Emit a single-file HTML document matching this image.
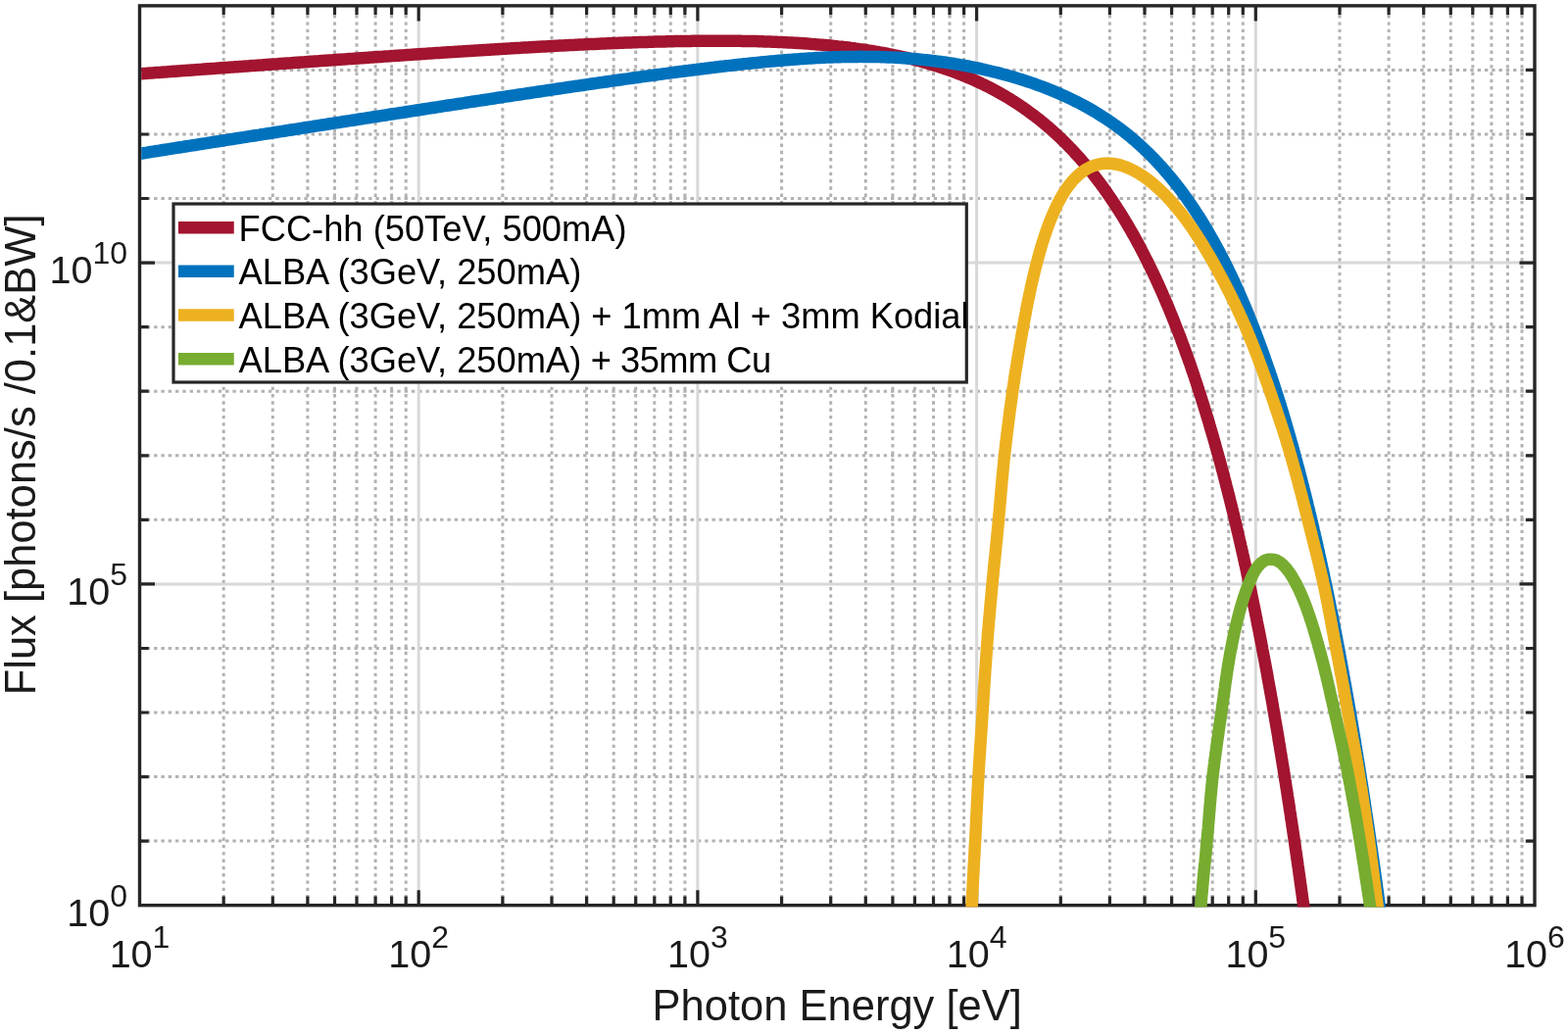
<!DOCTYPE html>
<html><head><meta charset="utf-8"><title>Flux vs Photon Energy</title><style>
html,body{margin:0;padding:0;background:#fff;overflow:hidden;}
svg{display:block;}
text{font-family:"Liberation Sans",Arial,Helvetica,sans-serif;fill:#1a1a1a;}
.lg{fill:#000;}
.tk{font-size:39.5px;}
.sp{font-size:32px;}
.lg{font-size:36.3px;}
.al{font-size:43.5px;}
</style></head><body>
<svg width="1600" height="1055" viewBox="0 0 1600 1055">
<rect x="0" y="0" width="1600" height="1055" fill="#fff"/>
<clipPath id="ax"><rect x="144.2" y="5.86" width="1421.80" height="919.54"/></clipPath>
<path d="M228.2,923.7V5.9M278.3,923.7V5.9M313.9,923.7V5.9M341.5,923.7V5.9M364.0,923.7V5.9M383.1,923.7V5.9M399.6,923.7V5.9M414.2,923.7V5.9M512.9,923.7V5.9M563.0,923.7V5.9M598.6,923.7V5.9M626.2,923.7V5.9M648.7,923.7V5.9M667.8,923.7V5.9M684.3,923.7V5.9M698.9,923.7V5.9M797.6,923.7V5.9M847.7,923.7V5.9M883.3,923.7V5.9M910.9,923.7V5.9M933.4,923.7V5.9M952.5,923.7V5.9M969.0,923.7V5.9M983.6,923.7V5.9M1082.3,923.7V5.9M1132.4,923.7V5.9M1168.0,923.7V5.9M1195.6,923.7V5.9M1218.1,923.7V5.9M1237.2,923.7V5.9M1253.7,923.7V5.9M1268.3,923.7V5.9M1367.0,923.7V5.9M1417.1,923.7V5.9M1452.7,923.7V5.9M1480.3,923.7V5.9M1502.8,923.7V5.9M1521.9,923.7V5.9M1538.4,923.7V5.9M1553.0,923.7V5.9M142.5,858.1H1566.0M142.5,792.6H1566.0M142.5,727.0H1566.0M142.5,661.5H1566.0M142.5,530.3H1566.0M142.5,464.8H1566.0M142.5,399.2H1566.0M142.5,333.7H1566.0M142.5,202.5H1566.0M142.5,137.0H1566.0M142.5,71.4H1566.0" stroke="#b2b2b2" stroke-width="3.0" stroke-dasharray="3.4 3.9" fill="none"/>
<path d="M427.2,923.7V5.9M711.9,923.7V5.9M996.6,923.7V5.9M1281.3,923.7V5.9M142.5,595.9H1566.0M142.5,268.1H1566.0" stroke="#d8d8d8" stroke-width="3.0" fill="none"/>
<path d="M228.2,923.7v-9.2M228.2,5.9v9.2M278.3,923.7v-9.2M278.3,5.9v9.2M313.9,923.7v-9.2M313.9,5.9v9.2M341.5,923.7v-9.2M341.5,5.9v9.2M364.0,923.7v-9.2M364.0,5.9v9.2M383.1,923.7v-9.2M383.1,5.9v9.2M399.6,923.7v-9.2M399.6,5.9v9.2M414.2,923.7v-9.2M414.2,5.9v9.2M427.2,923.7v-15.5M427.2,5.9v15.5M512.9,923.7v-9.2M512.9,5.9v9.2M563.0,923.7v-9.2M563.0,5.9v9.2M598.6,923.7v-9.2M598.6,5.9v9.2M626.2,923.7v-9.2M626.2,5.9v9.2M648.7,923.7v-9.2M648.7,5.9v9.2M667.8,923.7v-9.2M667.8,5.9v9.2M684.3,923.7v-9.2M684.3,5.9v9.2M698.9,923.7v-9.2M698.9,5.9v9.2M711.9,923.7v-15.5M711.9,5.9v15.5M797.6,923.7v-9.2M797.6,5.9v9.2M847.7,923.7v-9.2M847.7,5.9v9.2M883.3,923.7v-9.2M883.3,5.9v9.2M910.9,923.7v-9.2M910.9,5.9v9.2M933.4,923.7v-9.2M933.4,5.9v9.2M952.5,923.7v-9.2M952.5,5.9v9.2M969.0,923.7v-9.2M969.0,5.9v9.2M983.6,923.7v-9.2M983.6,5.9v9.2M996.6,923.7v-15.5M996.6,5.9v15.5M1082.3,923.7v-9.2M1082.3,5.9v9.2M1132.4,923.7v-9.2M1132.4,5.9v9.2M1168.0,923.7v-9.2M1168.0,5.9v9.2M1195.6,923.7v-9.2M1195.6,5.9v9.2M1218.1,923.7v-9.2M1218.1,5.9v9.2M1237.2,923.7v-9.2M1237.2,5.9v9.2M1253.7,923.7v-9.2M1253.7,5.9v9.2M1268.3,923.7v-9.2M1268.3,5.9v9.2M1281.3,923.7v-15.5M1281.3,5.9v15.5M1367.0,923.7v-9.2M1367.0,5.9v9.2M1417.1,923.7v-9.2M1417.1,5.9v9.2M1452.7,923.7v-9.2M1452.7,5.9v9.2M1480.3,923.7v-9.2M1480.3,5.9v9.2M1502.8,923.7v-9.2M1502.8,5.9v9.2M1521.9,923.7v-9.2M1521.9,5.9v9.2M1538.4,923.7v-9.2M1538.4,5.9v9.2M1553.0,923.7v-9.2M1553.0,5.9v9.2M142.5,858.1h9.2M1566.0,858.1h-9.2M142.5,792.6h9.2M1566.0,792.6h-9.2M142.5,727.0h9.2M1566.0,727.0h-9.2M142.5,661.5h9.2M1566.0,661.5h-9.2M142.5,595.9h15.5M1566.0,595.9h-15.5M142.5,530.3h9.2M1566.0,530.3h-9.2M142.5,464.8h9.2M1566.0,464.8h-9.2M142.5,399.2h9.2M1566.0,399.2h-9.2M142.5,333.7h9.2M1566.0,333.7h-9.2M142.5,268.1h15.5M1566.0,268.1h-15.5M142.5,202.5h9.2M1566.0,202.5h-9.2M142.5,137.0h9.2M1566.0,137.0h-9.2M142.5,71.4h9.2M1566.0,71.4h-9.2" stroke="#262626" stroke-width="3.2" fill="none"/>
<rect x="142.5" y="5.86" width="1423.50" height="917.84" fill="none" stroke="#262626" stroke-width="3.4"/>
<g clip-path="url(#ax)" fill="none" stroke-width="12.5" stroke-linejoin="round">
<path d="M142.5,75.3 144.5,75.2 146.6,75.0 148.6,74.9 150.6,74.7 152.7,74.6 154.7,74.4 156.7,74.3 158.7,74.1 160.8,74.0 162.8,73.9 164.8,73.7 166.9,73.6 168.9,73.4 170.9,73.3 173.0,73.1 175.0,73.0 177.0,72.8 179.0,72.7 181.1,72.5 183.1,72.4 185.1,72.2 187.2,72.1 189.2,71.9 191.2,71.8 193.3,71.7 195.3,71.5 197.3,71.4 199.3,71.2 201.4,71.1 203.4,70.9 205.4,70.8 207.5,70.6 209.5,70.5 211.5,70.3 213.6,70.2 215.6,70.0 217.6,69.9 219.6,69.8 221.7,69.6 223.7,69.5 225.7,69.3 227.8,69.2 229.8,69.0 231.8,68.9 233.9,68.7 235.9,68.6 237.9,68.4 239.9,68.3 242.0,68.2 244.0,68.0 246.0,67.9 248.1,67.7 250.1,67.6 252.1,67.4 254.2,67.3 256.2,67.1 258.2,67.0 260.2,66.9 262.3,66.7 264.3,66.6 266.3,66.4 268.4,66.3 270.4,66.1 272.4,66.0 274.5,65.8 276.5,65.7 278.5,65.6 280.5,65.4 282.6,65.3 284.6,65.1 286.6,65.0 288.7,64.8 290.7,64.7 292.7,64.5 294.8,64.4 296.8,64.3 298.8,64.1 300.8,64.0 302.9,63.8 304.9,63.7 306.9,63.5 309.0,63.4 311.0,63.3 313.0,63.1 315.1,63.0 317.1,62.8 319.1,62.7 321.1,62.5 323.2,62.4 325.2,62.3 327.2,62.1 329.3,62.0 331.3,61.8 333.3,61.7 335.4,61.5 337.4,61.4 339.4,61.3 341.4,61.1 343.5,61.0 345.5,60.8 347.5,60.7 349.6,60.6 351.6,60.4 353.6,60.3 355.7,60.1 357.7,60.0 359.7,59.9 361.7,59.7 363.8,59.6 365.8,59.4 367.8,59.3 369.9,59.2 371.9,59.0 373.9,58.9 376.0,58.7 378.0,58.6 380.0,58.5 382.0,58.3 384.1,58.2 386.1,58.0 388.1,57.9 390.2,57.8 392.2,57.6 394.2,57.5 396.3,57.4 398.3,57.2 400.3,57.1 402.3,56.9 404.4,56.8 406.4,56.7 408.4,56.5 410.5,56.4 412.5,56.3 414.5,56.1 416.6,56.0 418.6,55.9 420.6,55.7 422.6,55.6 424.7,55.5 426.7,55.3 428.7,55.2 430.8,55.0 432.8,54.9 434.8,54.8 436.9,54.6 438.9,54.5 440.9,54.4 442.9,54.2 445.0,54.1 447.0,54.0 449.0,53.9 451.1,53.7 453.1,53.6 455.1,53.5 457.2,53.3 459.2,53.2 461.2,53.1 463.2,52.9 465.3,52.8 467.3,52.7 469.3,52.5 471.4,52.4 473.4,52.3 475.4,52.2 477.5,52.0 479.5,51.9 481.5,51.8 483.5,51.7 485.6,51.5 487.6,51.4 489.6,51.3 491.7,51.2 493.7,51.0 495.7,50.9 497.8,50.8 499.8,50.7 501.8,50.5 503.8,50.4 505.9,50.3 507.9,50.2 509.9,50.0 512.0,49.9 514.0,49.8 516.0,49.7 518.1,49.6 520.1,49.4 522.1,49.3 524.1,49.2 526.2,49.1 528.2,49.0 530.2,48.9 532.3,48.7 534.3,48.6 536.3,48.5 538.4,48.4 540.4,48.3 542.4,48.2 544.4,48.0 546.5,47.9 548.5,47.8 550.5,47.7 552.6,47.6 554.6,47.5 556.6,47.4 558.7,47.3 560.7,47.2 562.7,47.1 564.7,46.9 566.8,46.8 568.8,46.7 570.8,46.6 572.9,46.5 574.9,46.4 576.9,46.3 579.0,46.2 581.0,46.1 583.0,46.0 585.0,45.9 587.1,45.8 589.1,45.7 591.1,45.6 593.2,45.5 595.2,45.4 597.2,45.3 599.3,45.2 601.3,45.1 603.3,45.0 605.3,45.0 607.4,44.9 609.4,44.8 611.4,44.7 613.5,44.6 615.5,44.5 617.5,44.4 619.6,44.3 621.6,44.3 623.6,44.2 625.6,44.1 627.7,44.0 629.7,43.9 631.7,43.8 633.8,43.8 635.8,43.7 637.8,43.6 639.9,43.5 641.9,43.5 643.9,43.4 645.9,43.3 648.0,43.3 650.0,43.2 652.0,43.1 654.1,43.1 656.1,43.0 658.1,42.9 660.2,42.9 662.2,42.8 664.2,42.7 666.2,42.7 668.3,42.6 670.3,42.6 672.3,42.5 674.4,42.5 676.4,42.4 678.4,42.4 680.5,42.3 682.5,42.3 684.5,42.2 686.5,42.2 688.6,42.1 690.6,42.1 692.6,42.1 694.7,42.0 696.7,42.0 698.7,41.9 700.8,41.9 702.8,41.9 704.8,41.9 706.8,41.8 708.9,41.8 710.9,41.8 712.9,41.8 715.0,41.7 717.0,41.7 719.0,41.7 721.1,41.7 723.1,41.7 725.1,41.7 727.1,41.7 729.2,41.7 731.2,41.7 733.2,41.7 735.3,41.7 737.3,41.7 739.3,41.7 741.4,41.7 743.4,41.7 745.4,41.7 747.4,41.7 749.5,41.8 751.5,41.8 753.5,41.8 755.6,41.8 757.6,41.9 759.6,41.9 761.7,41.9 763.7,42.0 765.7,42.0 767.7,42.0 769.8,42.1 771.8,42.1 773.8,42.2 775.9,42.3 777.9,42.3 779.9,42.4 782.0,42.4 784.0,42.5 786.0,42.6 788.0,42.7 790.1,42.7 792.1,42.8 794.1,42.9 796.2,43.0 798.2,43.1 800.2,43.2 802.3,43.3 804.3,43.4 806.3,43.5 808.3,43.6 810.4,43.7 812.4,43.8 814.4,44.0 816.5,44.1 818.5,44.2 820.5,44.3 822.6,44.5 824.6,44.6 826.6,44.8 828.6,44.9 830.7,45.1 832.7,45.3 834.7,45.4 836.8,45.6 838.8,45.8 840.8,46.0 842.9,46.1 844.9,46.3 846.9,46.5 848.9,46.7 851.0,46.9 853.0,47.1 855.0,47.4 857.1,47.6 859.1,47.8 861.1,48.1 863.2,48.3 865.2,48.5 867.2,48.8 869.2,49.1 871.3,49.3 873.3,49.6 875.3,49.9 877.4,50.2 879.4,50.4 881.4,50.7 883.5,51.0 885.5,51.4 887.5,51.7 889.5,52.0 891.6,52.3 893.6,52.7 895.6,53.0 897.7,53.4 899.7,53.7 901.7,54.1 903.8,54.5 905.8,54.9 907.7,55.3 909.7,55.7 911.7,56.1 913.6,56.5 915.6,56.9 917.6,57.3 919.5,57.7 921.5,58.2 923.5,58.6 925.4,59.1 927.4,59.5 929.4,60.0 931.3,60.5 933.3,61.0 935.3,61.5 937.2,62.0 939.2,62.5 941.1,63.1 943.1,63.6 945.1,64.2 947.0,64.7 949.0,65.3 951.0,65.9 952.9,66.5 954.9,67.1 956.9,67.7 958.8,68.3 960.8,69.0 962.7,69.6 964.6,70.3 966.5,70.9 968.4,71.6 970.3,72.2 972.2,72.9 974.1,73.6 976.0,74.4 977.9,75.1 979.8,75.8 981.7,76.6 983.6,77.3 985.5,78.1 987.4,78.9 989.3,79.7 991.2,80.5 993.0,81.3 994.8,82.1 996.7,83.0 998.5,83.8 1000.3,84.7 1002.2,85.6 1004.0,86.4 1005.8,87.3 1007.7,88.3 1009.5,89.2 1011.3,90.1 1013.2,91.1 1014.9,92.0 1016.7,93.0 1018.5,94.0 1020.3,95.0 1022.0,96.0 1023.8,97.0 1025.6,98.0 1027.3,99.1 1029.1,100.1 1030.9,101.2 1032.6,102.3 1034.3,103.3 1036.0,104.4 1037.7,105.5 1039.4,106.7 1041.1,107.8 1042.8,109.0 1044.5,110.1 1046.2,111.3 1047.8,112.5 1049.5,113.7 1051.1,114.9 1052.7,116.1 1054.4,117.3 1056.0,118.5 1057.6,119.8 1059.3,121.1 1060.9,122.3 1062.4,123.6 1064.0,124.9 1065.6,126.2 1067.1,127.5 1068.7,128.8 1070.3,130.2 1071.9,131.5 1073.4,132.9 1074.9,134.2 1076.4,135.6 1077.9,137.0 1079.4,138.4 1080.9,139.8 1082.4,141.2 1083.8,142.6 1085.3,144.0 1086.7,145.4 1088.2,146.9 1089.6,148.3 1091.0,149.8 1092.5,151.3 1093.9,152.8 1095.3,154.3 1096.7,155.8 1098.0,157.3 1099.4,158.8 1100.8,160.3 1102.2,161.8 1103.5,163.4 1104.9,165.0 1106.2,166.5 1107.5,168.1 1108.9,169.6 1110.2,171.2 1111.5,172.8 1112.8,174.4 1114.1,176.0 1115.4,177.7 1116.6,179.3 1117.9,180.9 1119.1,182.5 1120.4,184.1 1121.6,185.8 1122.9,187.4 1124.1,189.1 1125.4,190.8 1126.5,192.4 1127.7,194.1 1128.9,195.7 1130.1,197.4 1131.2,199.1 1132.4,200.8 1133.6,202.6 1134.8,204.3 1135.9,206.0 1137.0,207.6 1138.1,209.3 1139.2,211.0 1140.3,212.8 1141.5,214.5 1142.6,216.3 1143.7,218.0 1144.8,219.8 1145.9,221.6 1147.0,223.3 1148.0,225.1 1149.1,226.8 1150.1,228.6 1151.2,230.4 1152.2,232.2 1153.2,234.0 1154.3,235.8 1155.3,237.6 1156.4,239.5 1157.4,241.2 1158.4,243.0 1159.3,244.8 1160.3,246.6 1161.3,248.4 1162.3,250.2 1163.3,252.1 1164.3,253.9 1165.2,255.8 1166.2,257.7 1167.2,259.6 1168.1,261.4 1169.0,263.2 1169.9,265.0 1170.9,266.8 1171.8,268.7 1172.7,270.5 1173.6,272.4 1174.5,274.3 1175.4,276.2 1176.4,278.1 1177.3,280.0 1178.2,282.0 1179.1,283.8 1179.9,285.6 1180.8,287.5 1181.6,289.3 1182.5,291.2 1183.3,293.1 1184.2,295.0 1185.0,296.9 1185.9,298.8 1186.7,300.7 1187.6,302.7 1188.4,304.7 1189.3,306.6 1190.1,308.6 1190.9,310.5 1191.7,312.3 1192.5,314.2 1193.3,316.1 1194.0,318.0 1194.8,319.9 1195.6,321.8 1196.4,323.8 1197.2,325.7 1198.0,327.7 1198.8,329.7 1199.5,331.7 1200.3,333.7 1201.1,335.7 1201.9,337.7 1202.6,339.6 1203.3,341.4 1204.1,343.3 1204.8,345.2 1205.5,347.2 1206.2,349.1 1206.9,351.0 1207.7,353.0 1208.4,354.9 1209.1,356.9 1209.8,358.9 1210.5,360.9 1211.3,362.9 1212.0,364.9 1212.7,366.9 1213.4,369.0 1214.2,371.0 1214.9,373.1 1215.6,375.2 1216.2,377.1 1216.9,379.0 1217.6,380.9 1218.2,382.8 1218.9,384.8 1219.5,386.7 1220.2,388.7 1220.8,390.7 1221.5,392.6 1222.1,394.6 1222.8,396.6 1223.4,398.7 1224.1,400.7 1224.8,402.7 1225.4,404.8 1226.1,406.8 1226.7,408.9 1227.4,411.0 1228.0,413.1 1228.7,415.2 1229.3,417.3 1229.9,419.2 1230.5,421.1 1231.1,423.1 1231.7,425.0 1232.3,427.0 1232.9,428.9 1233.5,430.9 1234.1,432.9 1234.6,434.9 1235.2,436.9 1235.8,438.9 1236.4,440.9 1237.0,442.9 1237.6,445.0 1238.2,447.0 1238.8,449.1 1239.4,451.1 1240.0,453.2 1240.5,455.3 1241.1,457.4 1241.7,459.5 1242.3,461.6 1242.9,463.7 1243.5,465.9 1244.1,468.0 1244.7,470.2 1245.3,472.4 1245.8,474.3 1246.3,476.2 1246.8,478.2 1247.4,480.2 1247.9,482.1 1248.4,484.1 1248.9,486.1 1249.4,488.1 1250.0,490.1 1250.5,492.1 1251.0,494.1 1251.5,496.2 1252.1,498.2 1252.6,500.3 1253.1,502.3 1253.6,504.4 1254.2,506.4 1254.7,508.5 1255.2,510.6 1255.7,512.7 1256.3,514.8 1256.8,517.0 1257.3,519.1 1257.8,521.2 1258.4,523.4 1258.9,525.5 1259.4,527.7 1259.9,529.9 1260.4,532.0 1261.0,534.2 1261.5,536.4 1262.0,538.7 1262.5,540.9 1263.0,542.8 1263.5,544.8 1263.9,546.8 1264.4,548.7 1264.8,550.7 1265.3,552.7 1265.8,554.7 1266.2,556.7 1266.7,558.7 1267.1,560.7 1267.6,562.8 1268.0,564.8 1268.5,566.8 1269.0,568.9 1269.4,570.9 1269.9,573.0 1270.3,575.1 1270.8,577.1 1271.3,579.2 1271.7,581.3 1272.2,583.4 1272.6,585.5 1273.1,587.7 1273.5,589.8 1274.0,591.9 1274.5,594.1 1274.9,596.2 1275.4,598.4 1275.8,600.5 1276.3,602.7 1276.8,604.9 1277.2,607.1 1277.7,609.3 1278.1,611.5 1278.6,613.7 1279.0,615.9 1279.5,618.2 1280.0,620.4 1280.4,622.7 1280.9,624.9 1281.3,627.2 1281.8,629.5 1282.3,631.7 1282.6,633.7 1283.0,635.7 1283.4,637.7 1283.8,639.6 1284.2,641.6 1284.6,643.6 1285.0,645.6 1285.4,647.6 1285.8,649.7 1286.2,651.7 1286.6,653.7 1287.0,655.7 1287.4,657.8 1287.8,659.8 1288.1,661.9 1288.5,663.9 1288.9,666.0 1289.3,668.1 1289.7,670.2 1290.1,672.2 1290.5,674.3 1290.9,676.4 1291.3,678.5 1291.7,680.7 1292.1,682.8 1292.5,684.9 1292.9,687.0 1293.3,689.2 1293.6,691.3 1294.0,693.5 1294.4,695.7 1294.8,697.8 1295.2,700.0 1295.6,702.2 1296.0,704.4 1296.4,706.6 1296.8,708.8 1297.2,711.0 1297.6,713.2 1298.0,715.4 1298.4,717.7 1298.8,719.9 1299.1,722.1 1299.5,724.4 1299.9,726.7 1300.3,728.9 1300.7,731.2 1301.1,733.5 1301.5,735.8 1301.9,738.1 1302.3,740.4 1302.7,742.7 1303.1,745.0 1303.5,747.3 1303.9,749.7 1304.3,752.0 1304.6,754.4 1305.0,756.7 1305.4,759.1 1305.8,761.1 1306.1,763.0 1306.4,765.0 1306.7,767.0 1307.1,769.0 1307.4,771.0 1307.7,773.0 1308.1,775.0 1308.4,777.1 1308.7,779.1 1309.0,781.1 1309.4,783.1 1309.7,785.2 1310.0,787.2 1310.3,789.3 1310.7,791.3 1311.0,793.4 1311.3,795.5 1311.7,797.5 1312.0,799.6 1312.3,801.7 1312.6,803.8 1313.0,805.9 1313.3,808.0 1313.6,810.1 1313.9,812.2 1314.3,814.3 1314.6,816.5 1314.9,818.6 1315.3,820.7 1315.6,822.9 1315.9,825.0 1316.2,827.2 1316.6,829.3 1316.9,831.5 1317.2,833.6 1317.5,835.8 1317.9,838.0 1318.2,840.2 1318.5,842.4 1318.9,844.6 1319.2,846.8 1319.5,849.0 1319.8,851.2 1320.2,853.4 1320.5,855.7 1320.8,857.9 1321.2,860.1 1321.5,862.4 1321.8,864.6 1322.1,866.9 1322.5,869.2 1322.8,871.4 1323.1,873.7 1323.4,876.0 1323.8,878.3 1324.1,880.6 1324.4,882.9 1324.8,885.2 1325.1,887.5 1325.4,889.8 1325.7,892.1 1326.1,894.5 1326.4,896.8 1326.7,899.1 1327.0,901.5 1327.4,903.8 1327.7,906.2 1328.0,908.6 1328.4,910.9 1328.7,913.3 1329.0,915.7 1329.3,918.1 1329.7,920.5 1330.0,922.9 1330.3,925.3 1330.6,927.7 1331.0,930.2 1331.3,932.6 1331.6,935.0 1332.0,937.5 1332.3,939.9 1332.6,942.4 1332.9,944.9 1333.3,947.3 1333.6,949.8 1333.9,951.8 1334.1,953.8 1334.4,955.8 1334.6,957.8 1334.9,959.8 1335.2,961.8 1335.4,963.3" stroke="#A2142F"/>
<path d="M142.5,156.8 144.5,156.5 146.5,156.2 148.5,155.9 150.5,155.6 152.5,155.2 154.5,154.9 156.6,154.6 158.6,154.3 160.6,154.0 162.6,153.7 164.6,153.3 166.6,153.0 168.6,152.7 170.6,152.4 172.6,152.1 174.6,151.8 176.6,151.4 178.6,151.1 180.6,150.8 182.6,150.5 184.7,150.2 186.7,149.9 188.7,149.5 190.7,149.2 192.7,148.9 194.7,148.6 196.7,148.3 198.7,148.0 200.7,147.7 202.7,147.3 204.7,147.0 206.7,146.7 208.7,146.4 210.7,146.1 212.8,145.8 214.8,145.4 216.8,145.1 218.8,144.8 220.8,144.5 222.8,144.2 224.8,143.9 226.8,143.5 228.8,143.2 230.8,142.9 232.8,142.6 234.8,142.3 236.8,142.0 238.8,141.7 240.9,141.3 242.9,141.0 244.9,140.7 246.9,140.4 248.9,140.1 250.9,139.8 252.9,139.4 254.9,139.1 256.9,138.8 258.9,138.5 260.9,138.2 262.9,137.9 264.9,137.6 266.9,137.2 269.0,136.9 271.0,136.6 273.0,136.3 275.0,136.0 277.0,135.7 279.0,135.3 281.0,135.0 283.0,134.7 285.0,134.4 287.0,134.1 289.0,133.8 291.0,133.5 293.0,133.1 295.0,132.8 297.1,132.5 299.1,132.2 301.1,131.9 303.1,131.6 305.1,131.3 307.1,130.9 309.1,130.6 311.1,130.3 313.1,130.0 315.1,129.7 317.1,129.4 319.1,129.1 321.1,128.7 323.2,128.4 325.2,128.1 327.2,127.8 329.2,127.5 331.2,127.2 333.2,126.9 335.2,126.5 337.2,126.2 339.2,125.9 341.2,125.6 343.2,125.3 345.2,125.0 347.2,124.7 349.2,124.3 351.3,124.0 353.3,123.7 355.3,123.4 357.3,123.1 359.3,122.8 361.3,122.5 363.3,122.2 365.3,121.8 367.3,121.5 369.3,121.2 371.3,120.9 373.3,120.6 375.3,120.3 377.3,120.0 379.4,119.6 381.4,119.3 383.4,119.0 385.4,118.7 387.4,118.4 389.4,118.1 391.4,117.8 393.4,117.5 395.4,117.1 397.4,116.8 399.4,116.5 401.4,116.2 403.4,115.9 405.4,115.6 407.5,115.3 409.5,115.0 411.5,114.7 413.5,114.3 415.5,114.0 417.5,113.7 419.5,113.4 421.5,113.1 423.5,112.8 425.5,112.5 427.5,112.2 429.5,111.9 431.5,111.5 433.5,111.2 435.6,110.9 437.6,110.6 439.6,110.3 441.6,110.0 443.6,109.7 445.6,109.4 447.6,109.1 449.6,108.8 451.6,108.4 453.6,108.1 455.6,107.8 457.6,107.5 459.6,107.2 461.7,106.9 463.7,106.6 465.7,106.3 467.7,106.0 469.7,105.7 471.7,105.4 473.7,105.1 475.7,104.7 477.7,104.4 479.7,104.1 481.7,103.8 483.7,103.5 485.7,103.2 487.7,102.9 489.8,102.6 491.8,102.3 493.8,102.0 495.8,101.7 497.8,101.4 499.8,101.1 501.8,100.8 503.8,100.5 505.8,100.1 507.8,99.8 509.8,99.5 511.8,99.2 513.8,98.9 515.8,98.6 517.9,98.3 519.9,98.0 521.9,97.7 523.9,97.4 525.9,97.1 527.9,96.8 529.9,96.5 531.9,96.2 533.9,95.9 535.9,95.6 537.9,95.3 539.9,95.0 541.9,94.7 543.9,94.4 546.0,94.1 548.0,93.8 550.0,93.5 552.0,93.2 554.0,92.9 556.0,92.6 558.0,92.3 560.0,92.0 562.0,91.7 564.0,91.4 566.0,91.1 568.0,90.8 570.0,90.5 572.0,90.2 574.1,89.9 576.1,89.6 578.1,89.3 580.1,89.0 582.1,88.7 584.1,88.4 586.1,88.1 588.1,87.8 590.1,87.6 592.1,87.3 594.1,87.0 596.1,86.7 598.1,86.4 600.1,86.1 602.2,85.8 604.2,85.5 606.2,85.2 608.2,84.9 610.2,84.6 612.2,84.3 614.2,84.1 616.2,83.8 618.2,83.5 620.2,83.2 622.2,82.9 624.2,82.6 626.2,82.3 628.3,82.1 630.3,81.8 632.3,81.5 634.3,81.2 636.3,80.9 638.3,80.6 640.3,80.4 642.3,80.1 644.3,79.8 646.3,79.5 648.3,79.2 650.3,79.0 652.3,78.7 654.3,78.4 656.4,78.1 658.4,77.8 660.4,77.6 662.4,77.3 664.4,77.0 666.4,76.8 668.4,76.5 670.4,76.2 672.4,75.9 674.4,75.7 676.4,75.4 678.4,75.1 680.4,74.9 682.4,74.6 684.5,74.3 686.5,74.1 688.5,73.8 690.5,73.5 692.5,73.3 694.5,73.0 696.5,72.8 698.5,72.5 700.5,72.2 702.5,72.0 704.5,71.7 706.5,71.5 708.5,71.2 710.5,71.0 712.6,70.7 714.6,70.5 716.6,70.2 718.6,70.0 720.6,69.7 722.6,69.5 724.6,69.2 726.6,69.0 728.6,68.8 730.6,68.5 732.6,68.3 734.6,68.0 736.6,67.8 738.6,67.6 740.7,67.3 742.7,67.1 744.7,66.9 746.7,66.7 748.7,66.4 750.7,66.2 752.7,66.0 754.7,65.8 756.7,65.6 758.7,65.3 760.7,65.1 762.7,64.9 764.7,64.7 766.8,64.5 768.8,64.3 770.8,64.1 772.8,63.9 774.8,63.7 776.8,63.5 778.8,63.3 780.8,63.1 782.8,62.9 784.8,62.7 786.8,62.5 788.8,62.4 790.8,62.2 792.8,62.0 794.9,61.8 796.9,61.7 798.9,61.5 800.9,61.3 802.9,61.2 804.9,61.0 806.9,60.9 808.9,60.7 810.9,60.6 812.9,60.4 814.9,60.3 816.9,60.1 818.9,60.0 820.9,59.9 823.0,59.7 825.0,59.6 827.0,59.5 829.0,59.4 831.0,59.2 833.0,59.1 835.0,59.0 837.0,58.9 839.0,58.8 841.0,58.7 843.0,58.6 845.0,58.6 847.0,58.5 849.0,58.4 851.1,58.3 853.1,58.3 855.1,58.2 857.1,58.2 859.1,58.1 861.1,58.0 863.1,58.0 865.1,58.0 867.1,57.9 869.1,57.9 871.1,57.9 873.1,57.9 875.1,57.9 877.1,57.8 879.2,57.8 881.2,57.9 883.2,57.9 885.2,57.9 887.2,57.9 889.2,57.9 891.2,58.0 893.2,58.0 895.2,58.0 897.2,58.1 899.2,58.2 901.2,58.2 903.2,58.3 905.2,58.4 907.3,58.4 909.3,58.5 911.3,58.6 913.3,58.7 915.3,58.8 917.3,59.0 919.3,59.1 921.3,59.2 923.3,59.3 925.3,59.5 927.3,59.6 929.3,59.8 931.3,59.9 933.4,60.1 935.4,60.3 937.4,60.5 939.4,60.7 941.4,60.9 943.4,61.1 945.4,61.3 947.4,61.5 949.4,61.7 951.4,62.0 953.4,62.2 955.4,62.5 957.4,62.7 959.4,63.0 961.5,63.3 963.5,63.5 965.5,63.8 967.5,64.1 969.5,64.4 971.5,64.7 973.5,65.0 975.5,65.4 977.5,65.7 979.5,66.1 981.5,66.4 983.5,66.8 985.5,67.1 987.5,67.5 989.6,67.9 991.6,68.3 993.6,68.7 995.6,69.1 997.6,69.5 999.6,69.9 1001.6,70.4 1003.6,70.8 1005.6,71.3 1007.6,71.7 1009.6,72.2 1011.6,72.7 1013.6,73.2 1015.6,73.7 1017.6,74.1 1019.5,74.6 1021.5,75.1 1023.4,75.7 1025.3,76.2 1027.3,76.7 1029.2,77.3 1031.2,77.8 1033.1,78.4 1035.1,78.9 1037.0,79.5 1038.9,80.1 1040.9,80.7 1042.8,81.3 1044.8,81.9 1046.7,82.6 1048.6,83.2 1050.6,83.8 1052.5,84.5 1054.5,85.2 1056.4,85.9 1058.3,86.6 1060.3,87.3 1062.2,88.0 1064.1,88.7 1066.0,89.4 1067.8,90.1 1069.7,90.9 1071.6,91.6 1073.5,92.4 1075.3,93.1 1077.2,93.9 1079.1,94.7 1080.9,95.5 1082.8,96.4 1084.7,97.2 1086.6,98.0 1088.4,98.9 1090.3,99.8 1092.1,100.6 1093.9,101.5 1095.7,102.4 1097.5,103.3 1099.3,104.2 1101.2,105.1 1103.0,106.1 1104.8,107.0 1106.6,108.0 1108.4,109.0 1110.2,110.0 1112.0,111.0 1113.7,112.0 1115.5,113.0 1117.2,114.1 1119.0,115.1 1120.7,116.2 1122.4,117.3 1124.2,118.4 1125.9,119.5 1127.7,120.6 1129.3,121.7 1131.0,122.8 1132.7,124.0 1134.3,125.1 1136.0,126.3 1137.7,127.5 1139.4,128.7 1141.0,129.9 1142.6,131.1 1144.2,132.3 1145.9,133.6 1147.5,134.8 1149.1,136.1 1150.7,137.4 1152.3,138.7 1153.9,140.0 1155.4,141.3 1157.0,142.6 1158.5,143.9 1160.0,145.3 1161.6,146.6 1163.1,148.0 1164.7,149.4 1166.1,150.8 1167.6,152.2 1169.1,153.6 1170.5,155.0 1172.0,156.4 1173.5,157.9 1175.0,159.4 1176.4,160.8 1177.8,162.2 1179.2,163.7 1180.6,165.2 1182.0,166.7 1183.4,168.2 1184.8,169.7 1186.1,171.2 1187.5,172.7 1188.8,174.3 1190.1,175.8 1191.5,177.4 1192.8,179.0 1194.2,180.6 1195.5,182.2 1196.8,183.8 1198.0,185.3 1199.3,186.9 1200.6,188.5 1201.9,190.2 1203.1,191.8 1204.4,193.5 1205.6,195.1 1206.8,196.7 1208.0,198.4 1209.2,200.0 1210.4,201.7 1211.6,203.4 1212.8,205.1 1214.0,206.8 1215.2,208.5 1216.3,210.1 1217.4,211.8 1218.6,213.5 1219.7,215.3 1220.9,217.0 1222.0,218.8 1223.1,220.5 1224.3,222.3 1225.3,224.0 1226.4,225.7 1227.5,227.5 1228.5,229.2 1229.6,231.0 1230.7,232.8 1231.8,234.6 1232.8,236.4 1233.9,238.3 1234.9,240.0 1235.9,241.8 1236.9,243.5 1237.9,245.3 1238.9,247.1 1239.9,248.9 1240.9,250.8 1241.9,252.6 1242.9,254.5 1243.9,256.4 1244.9,258.2 1245.8,260.0 1246.7,261.8 1247.7,263.6 1248.6,265.4 1249.6,267.3 1250.5,269.1 1251.4,271.0 1252.4,272.9 1253.3,274.8 1254.2,276.8 1255.1,278.6 1256.0,280.4 1256.9,282.2 1257.7,284.1 1258.6,285.9 1259.5,287.8 1260.3,289.7 1261.2,291.6 1262.1,293.5 1262.9,295.4 1263.8,297.4 1264.7,299.3 1265.5,301.3 1266.4,303.2 1267.2,305.0 1268.0,306.9 1268.8,308.7 1269.6,310.6 1270.4,312.5 1271.2,314.4 1272.0,316.4 1272.8,318.3 1273.6,320.3 1274.4,322.2 1275.2,324.2 1276.0,326.2 1276.8,328.2 1277.6,330.3 1278.3,332.1 1279.1,334.0 1279.8,335.9 1280.5,337.8 1281.3,339.7 1282.0,341.6 1282.7,343.6 1283.5,345.5 1284.2,347.5 1285.0,349.5 1285.7,351.5 1286.4,353.5 1287.2,355.5 1287.9,357.5 1288.6,359.5 1289.4,361.6 1290.1,363.7 1290.8,365.6 1291.4,367.5 1292.1,369.4 1292.8,371.3 1293.4,373.2 1294.1,375.2 1294.8,377.1 1295.5,379.1 1296.1,381.1 1296.8,383.0 1297.5,385.0 1298.1,387.1 1298.8,389.1 1299.5,391.1 1300.1,393.1 1300.8,395.2 1301.5,397.3 1302.1,399.4 1302.8,401.4 1303.5,403.5 1304.2,405.7 1304.8,407.6 1305.4,409.5 1306.0,411.4 1306.6,413.4 1307.2,415.3 1307.8,417.3 1308.4,419.3 1309.0,421.2 1309.6,423.2 1310.2,425.2 1310.8,427.2 1311.4,429.3 1312.0,431.3 1312.6,433.3 1313.2,435.4 1313.8,437.5 1314.4,439.5 1315.0,441.6 1315.6,443.7 1316.2,445.8 1316.8,447.9 1317.4,450.1 1318.0,452.2 1318.6,454.3 1319.2,456.5 1319.7,458.4 1320.3,460.4 1320.8,462.3 1321.3,464.3 1321.9,466.2 1322.4,468.2 1323.0,470.2 1323.5,472.2 1324.0,474.2 1324.6,476.2 1325.1,478.2 1325.6,480.2 1326.2,482.3 1326.7,484.3 1327.2,486.4 1327.8,488.4 1328.3,490.5 1328.8,492.6 1329.4,494.7 1329.9,496.8 1330.4,498.9 1331.0,501.0 1331.5,503.1 1332.1,505.2 1332.6,507.4 1333.1,509.5 1333.7,511.7 1334.2,513.9 1334.7,516.1 1335.3,518.3 1335.8,520.5 1336.3,522.7 1336.9,524.9 1337.3,526.8 1337.8,528.8 1338.3,530.8 1338.7,532.7 1339.2,534.7 1339.7,536.7 1340.2,538.7 1340.6,540.7 1341.1,542.7 1341.6,544.8 1342.0,546.8 1342.5,548.8 1343.0,550.9 1343.4,552.9 1343.9,555.0 1344.4,557.1 1344.8,559.1 1345.3,561.2 1345.8,563.3 1346.2,565.4 1346.7,567.5 1347.2,569.6 1347.6,571.8 1348.1,573.9 1348.6,576.0 1349.0,578.2 1349.5,580.3 1350.0,582.5 1350.5,584.7 1350.9,586.9 1351.4,589.1 1351.9,591.3 1352.3,593.5 1352.8,595.7 1353.3,597.9 1353.7,600.1 1354.2,602.4 1354.7,604.6 1355.1,606.9 1355.6,609.2 1356.1,611.4 1356.5,613.7 1356.9,615.7 1357.3,617.7 1357.7,619.6 1358.1,621.6 1358.6,623.6 1359.0,625.6 1359.4,627.6 1359.8,629.6 1360.2,631.7 1360.6,633.7 1361.0,635.7 1361.4,637.8 1361.8,639.8 1362.2,641.9 1362.6,643.9 1363.0,646.0 1363.4,648.1 1363.8,650.1 1364.2,652.2 1364.6,654.3 1365.0,656.4 1365.4,658.5 1365.8,660.6 1366.2,662.8 1366.6,664.9 1367.0,667.0 1367.4,669.2 1367.8,671.3 1368.2,673.5 1368.6,675.6 1369.0,677.8 1369.4,680.0 1369.8,682.2 1370.2,684.4 1370.6,686.6 1371.0,688.8 1371.4,691.0 1371.8,693.2 1372.2,695.4 1372.6,697.7 1373.0,699.9 1373.4,702.1 1373.8,704.4 1374.2,706.7 1374.6,708.9 1375.0,711.2 1375.4,713.5 1375.8,715.8 1376.2,718.1 1376.6,720.4 1377.0,722.7 1377.4,725.0 1377.8,727.4 1378.2,729.7 1378.6,732.1 1379.0,734.4 1379.4,736.8 1379.8,738.8 1380.1,740.7 1380.4,742.7 1380.8,744.7 1381.1,746.7 1381.4,748.7 1381.8,750.7 1382.1,752.7 1382.4,754.8 1382.8,756.8 1383.1,758.8 1383.4,760.8 1383.8,762.9 1384.1,764.9 1384.4,767.0 1384.8,769.0 1385.1,771.1 1385.4,773.2 1385.8,775.2 1386.1,777.3 1386.5,779.4 1386.8,781.5 1387.1,783.6 1387.5,785.7 1387.8,787.8 1388.1,789.9 1388.5,792.0 1388.8,794.2 1389.1,796.3 1389.5,798.4 1389.8,800.6 1390.1,802.7 1390.5,804.9 1390.8,807.0 1391.1,809.2 1391.5,811.4 1391.8,813.5 1392.1,815.7 1392.5,817.9 1392.8,820.1 1393.1,822.3 1393.5,824.5 1393.8,826.7 1394.1,829.0 1394.5,831.2 1394.8,833.4 1395.1,835.7 1395.5,837.9 1395.8,840.1 1396.2,842.4 1396.5,844.7 1396.8,846.9 1397.2,849.2 1397.5,851.5 1397.8,853.8 1398.2,856.1 1398.5,858.4 1398.8,860.7 1399.2,863.0 1399.5,865.3 1399.8,867.6 1400.2,870.0 1400.5,872.3 1400.8,874.6 1401.2,877.0 1401.5,879.3 1401.8,881.7 1402.2,884.1 1402.5,886.5 1402.8,888.8 1403.2,891.2 1403.5,893.6 1403.8,896.0 1404.2,898.4 1404.5,900.8 1404.9,903.3 1405.2,905.7 1405.5,908.1 1405.9,910.6 1406.2,913.0 1406.5,915.5 1406.9,917.9 1407.2,920.4 1407.5,922.9 1407.8,924.8 1408.1,926.8 1408.3,928.8 1408.6,930.8 1408.9,932.8 1409.1,934.8 1409.4,936.8 1409.7,938.9 1409.9,940.9 1410.2,942.9 1410.5,944.9 1410.7,947.0 1411.0,949.0 1411.3,951.0 1411.5,953.1 1411.8,955.1 1412.1,957.2 1412.3,959.2 1412.6,961.3 1412.9,963.4 1412.9,963.4" stroke="#0072BD"/>
<path d="M989.8,963.6 989.9,961.3 990.0,959.0 990.1,956.7 990.2,954.4 990.3,952.1 990.4,949.8 990.5,947.5 990.6,945.2 990.7,942.9 990.8,940.6 991.0,938.4 991.1,936.1 991.2,933.9 991.3,931.6 991.4,929.4 991.5,927.1 991.6,924.9 991.7,922.7 991.8,920.5 991.9,918.3 992.0,916.1 992.1,913.9 992.2,911.7 992.3,909.5 992.5,907.3 992.6,905.1 992.7,903.0 992.8,900.8 992.9,898.6 993.0,896.5 993.1,894.3 993.3,892.2 993.4,890.1 993.5,887.9 993.6,885.8 993.7,883.7 993.8,881.6 993.9,879.5 994.1,877.4 994.2,875.3 994.3,873.2 994.4,871.1 994.5,869.1 994.6,867.0 994.7,864.9 994.8,862.9 994.9,860.8 995.1,858.8 995.2,856.7 995.3,854.7 995.4,852.7 995.5,850.6 995.6,848.6 995.7,846.6 995.8,844.6 995.9,842.6 996.0,840.6 996.1,838.1 996.2,835.6 996.3,833.1 996.4,830.7 996.6,828.2 996.7,825.8 996.8,823.3 996.9,820.9 997.0,818.5 997.2,816.1 997.3,813.7 997.4,811.3 997.5,808.9 997.6,806.5 997.8,804.1 997.9,801.7 998.0,799.4 998.1,797.0 998.3,794.7 998.4,792.4 998.5,790.0 998.7,787.7 998.8,785.4 998.9,783.1 999.1,780.8 999.2,778.5 999.4,776.2 999.5,774.0 999.7,771.7 999.8,769.4 1000.0,767.2 1000.1,765.0 1000.2,762.7 1000.4,760.5 1000.5,758.3 1000.7,756.1 1000.8,753.9 1001.0,751.7 1001.1,749.5 1001.3,747.3 1001.4,745.1 1001.6,743.0 1001.7,740.8 1001.9,738.7 1002.0,736.5 1002.1,734.4 1002.3,732.3 1002.4,730.1 1002.5,728.0 1002.7,725.9 1002.8,723.8 1002.9,721.7 1003.1,719.6 1003.2,717.6 1003.3,715.5 1003.5,713.4 1003.6,711.4 1003.7,709.3 1003.9,707.3 1004.0,705.2 1004.1,703.2 1004.3,701.2 1004.4,699.2 1004.5,697.2 1004.7,695.2 1004.8,692.8 1005.0,690.4 1005.1,688.0 1005.3,685.7 1005.4,683.3 1005.6,681.0 1005.8,678.6 1005.9,676.3 1006.1,674.0 1006.2,671.7 1006.4,669.4 1006.6,667.1 1006.7,664.8 1006.9,662.5 1007.0,660.3 1007.2,658.0 1007.4,655.8 1007.5,653.6 1007.7,651.3 1007.9,649.1 1008.0,646.9 1008.2,644.7 1008.4,642.5 1008.6,640.4 1008.8,638.2 1008.9,636.0 1009.1,633.9 1009.3,631.8 1009.5,629.6 1009.7,627.5 1009.9,625.4 1010.1,623.3 1010.3,621.2 1010.4,619.1 1010.6,617.0 1010.8,614.9 1011.0,612.9 1011.2,610.8 1011.4,608.8 1011.6,606.7 1011.8,604.7 1011.9,602.7 1012.1,600.7 1012.3,598.7 1012.5,596.7 1012.7,594.4 1012.9,592.1 1013.1,589.8 1013.4,587.5 1013.6,585.2 1013.8,582.9 1014.0,580.7 1014.2,578.4 1014.5,576.2 1014.7,574.0 1014.9,571.8 1015.1,569.6 1015.4,567.4 1015.6,565.2 1015.8,563.1 1016.0,560.9 1016.2,558.7 1016.4,556.6 1016.7,554.5 1016.9,552.4 1017.1,550.3 1017.3,548.2 1017.5,546.1 1017.7,544.0 1017.9,541.9 1018.1,539.9 1018.3,537.8 1018.5,535.8 1018.7,533.8 1018.9,531.8 1019.1,529.8 1019.2,527.8 1019.4,525.5 1019.6,523.2 1019.8,521.0 1020.0,518.8 1020.2,516.6 1020.4,514.3 1020.6,512.2 1020.8,510.0 1021.0,507.8 1021.2,505.6 1021.3,503.5 1021.5,501.4 1021.7,499.2 1021.9,497.1 1022.1,495.0 1022.3,492.9 1022.4,490.9 1022.6,488.8 1022.8,486.7 1023.0,484.7 1023.2,482.7 1023.4,480.7 1023.6,478.6 1023.8,476.6 1024.0,474.4 1024.2,472.2 1024.4,470.0 1024.7,467.8 1024.9,465.6 1025.1,463.5 1025.4,461.3 1025.6,459.2 1025.9,457.0 1026.1,454.9 1026.3,452.8 1026.6,450.8 1026.8,448.7 1027.1,446.6 1027.3,444.6 1027.6,442.5 1027.8,440.5 1028.1,438.5 1028.3,436.5 1028.6,434.3 1028.9,432.1 1029.1,430.0 1029.4,427.8 1029.7,425.7 1030.0,423.5 1030.2,421.4 1030.5,419.3 1030.8,417.3 1031.1,415.2 1031.4,413.1 1031.6,411.1 1031.9,409.1 1032.2,407.1 1032.5,405.1 1032.7,403.1 1033.0,400.9 1033.3,398.8 1033.6,396.7 1034.0,394.5 1034.3,392.4 1034.6,390.4 1034.9,388.3 1035.2,386.3 1035.5,384.2 1035.8,382.2 1036.1,380.2 1036.4,378.2 1036.8,376.1 1037.1,373.9 1037.5,371.8 1037.8,369.7 1038.1,367.7 1038.5,365.6 1038.8,363.6 1039.2,361.5 1039.5,359.5 1039.8,357.5 1040.2,355.6 1040.5,353.4 1040.9,351.3 1041.2,349.3 1041.6,347.2 1042.0,345.2 1042.3,343.1 1042.7,341.1 1043.0,339.2 1043.4,337.0 1043.8,334.9 1044.1,332.9 1044.5,330.8 1044.9,328.8 1045.2,326.8 1045.6,324.8 1046.0,322.8 1046.4,320.7 1046.8,318.7 1047.1,316.6 1047.5,314.6 1047.9,312.6 1048.3,310.6 1048.7,308.5 1049.1,306.5 1049.6,304.4 1050.0,302.4 1050.4,300.4 1050.8,298.4 1051.3,296.4 1051.7,294.3 1052.1,292.3 1052.6,290.3 1053.0,288.4 1053.5,286.3 1054.0,284.3 1054.4,282.3 1054.9,280.3 1055.4,278.4 1055.9,276.3 1056.4,274.3 1056.9,272.4 1057.3,270.4 1057.9,268.4 1058.4,266.4 1058.9,264.5 1059.5,262.4 1060.0,260.4 1060.6,258.5 1061.1,256.6 1061.7,254.6 1062.3,252.6 1062.8,250.7 1063.4,248.7 1064.0,246.8 1064.7,244.8 1065.3,242.9 1065.9,240.9 1066.6,239.0 1067.2,237.1 1067.9,235.1 1068.6,233.2 1069.3,231.3 1070.0,229.4 1070.7,227.4 1071.4,225.5 1072.2,223.6 1073.0,221.8 1073.8,219.9 1074.5,218.0 1075.4,216.2 1076.2,214.3 1077.1,212.5 1077.9,210.6 1078.8,208.8 1079.7,207.0 1080.7,205.2 1081.7,203.4 1082.6,201.6 1083.6,199.9 1084.7,198.2 1085.7,196.5 1086.8,194.7 1088.0,193.0 1089.1,191.4 1090.3,189.8 1091.5,188.2 1092.8,186.6 1094.1,185.0 1095.4,183.5 1096.8,182.0 1098.3,180.6 1099.7,179.2 1101.2,177.9 1102.8,176.6 1104.4,175.4 1106.0,174.2 1107.7,173.1 1109.4,172.1 1111.2,171.1 1113.0,170.3 1114.9,169.5 1116.8,168.8 1118.7,168.2 1120.7,167.7 1122.6,167.3 1124.6,167.0 1126.6,166.8 1128.6,166.7 1130.6,166.6 1132.6,166.7 1134.6,166.9 1136.6,167.2 1138.6,167.5 1140.6,167.9 1142.5,168.4 1144.5,168.9 1146.4,169.6 1148.3,170.2 1150.2,171.0 1152.0,171.8 1153.8,172.6 1155.6,173.5 1157.5,174.4 1159.2,175.4 1161.0,176.4 1162.7,177.4 1164.4,178.5 1166.1,179.6 1167.7,180.7 1169.4,181.9 1171.0,183.1 1172.6,184.3 1174.2,185.6 1175.8,186.8 1177.3,188.1 1178.8,189.5 1180.3,190.8 1181.9,192.1 1183.3,193.5 1184.8,194.9 1186.2,196.3 1187.7,197.7 1189.1,199.1 1190.5,200.6 1191.9,202.1 1193.3,203.5 1194.6,205.0 1196.0,206.5 1197.3,208.1 1198.6,209.6 1200.0,211.2 1201.2,212.7 1202.5,214.3 1203.8,215.8 1205.1,217.4 1206.3,219.0 1207.5,220.6 1208.7,222.2 1209.9,223.8 1211.1,225.5 1212.3,227.1 1213.5,228.7 1214.7,230.4 1215.8,232.0 1217.0,233.7 1218.1,235.4 1219.2,237.1 1220.4,238.8 1221.5,240.4 1222.6,242.1 1223.7,243.8 1224.7,245.5 1225.8,247.3 1226.9,249.0 1227.9,250.7 1229.0,252.4 1230.0,254.1 1231.1,255.9 1232.1,257.6 1233.1,259.3 1234.2,261.1 1235.2,262.8 1236.2,264.6 1237.2,266.4 1238.2,268.1 1239.2,269.9 1240.2,271.7 1241.2,273.5 1242.1,275.2 1243.1,277.0 1244.1,278.8 1245.0,280.6 1246.0,282.4 1247.0,284.1 1247.9,285.9 1248.9,287.7 1249.8,289.5 1250.7,291.3 1251.7,293.1 1252.6,294.9 1253.5,296.7 1254.4,298.5 1255.3,300.3 1256.2,302.1 1257.1,303.9 1258.0,305.8 1258.9,307.6 1259.8,309.4 1260.7,311.2 1261.6,313.1 1262.4,314.9 1263.3,316.7 1264.1,318.6 1265.0,320.4 1265.8,322.3 1266.7,324.1 1267.5,326.0 1268.3,327.8 1269.1,329.7 1270.0,331.5 1270.8,333.4 1271.6,335.3 1272.4,337.2 1273.1,339.0 1273.9,340.9 1274.7,342.8 1275.5,344.7 1276.2,346.6 1277.0,348.5 1277.8,350.3 1278.5,352.2 1279.3,354.1 1280.0,356.0 1280.7,357.9 1281.5,359.8 1282.2,361.7 1283.0,363.6 1283.7,365.5 1284.4,367.4 1285.1,369.3 1285.8,371.2 1286.5,373.1 1287.3,375.1 1288.0,377.0 1288.7,378.9 1289.3,380.8 1290.0,382.7 1290.7,384.6 1291.4,386.6 1292.1,388.5 1292.8,390.4 1293.5,392.3 1294.1,394.2 1294.8,396.1 1295.5,398.1 1296.1,400.0 1296.8,401.9 1297.5,403.9 1298.2,405.8 1298.8,407.7 1299.5,409.6 1300.1,411.6 1300.8,413.5 1301.4,415.4 1302.1,417.4 1302.8,419.4 1303.4,421.3 1304.0,423.2 1304.7,425.1 1305.3,427.0 1306.0,429.0 1306.6,430.9 1307.2,432.9 1307.9,434.8 1308.5,436.8 1309.2,438.8 1309.8,440.7 1310.4,442.6 1311.0,444.5 1311.6,446.5 1312.2,448.4 1312.8,450.4 1313.4,452.4 1314.0,454.3 1314.6,456.3 1315.2,458.3 1315.8,460.3 1316.3,462.2 1316.9,464.2 1317.5,466.1 1318.0,468.1 1318.6,470.0 1319.1,472.0 1319.7,474.0 1320.2,476.0 1320.8,478.0 1321.4,480.0 1321.9,482.0 1322.5,484.0 1323.0,485.9 1323.5,487.9 1324.1,489.8 1324.6,491.8 1325.1,493.8 1325.6,495.8 1326.2,497.7 1326.7,499.7 1327.2,501.8 1327.8,503.8 1328.3,505.8 1328.8,507.8 1329.3,509.8 1329.8,511.7 1330.3,513.7 1330.8,515.6 1331.3,517.6 1331.8,519.6 1332.3,521.6 1332.8,523.6 1333.3,525.6 1333.8,527.6 1334.4,529.6 1334.9,531.6 1335.4,533.7 1335.9,535.7 1336.4,537.7 1336.9,539.6 1337.4,541.6 1337.9,543.6 1338.4,545.5 1338.9,547.5 1339.4,549.5 1339.9,551.5 1340.4,553.5 1340.9,555.6 1341.4,557.6 1341.9,559.6 1342.5,561.7 1343.0,563.7 1343.5,565.7 1343.9,567.6 1344.4,569.6 1344.9,571.5 1345.4,573.5 1345.9,575.5 1346.4,577.5 1346.8,579.5 1347.3,581.5 1347.8,583.5 1348.2,585.5 1348.7,587.5 1349.2,589.5 1349.6,591.6 1350.1,593.6 1350.5,595.7 1351.0,597.7 1351.4,599.8 1351.9,601.9 1352.3,603.8 1352.7,605.8 1353.1,607.8 1353.5,609.8 1353.9,611.8 1354.3,613.8 1354.7,615.8 1355.1,617.8 1355.5,619.8 1355.8,621.8 1356.2,623.8 1356.6,625.9 1357.0,627.9 1357.4,630.0 1357.8,632.0 1358.2,634.1 1358.6,636.2 1359.0,638.3 1359.3,640.3 1359.7,642.4 1360.1,644.4 1360.5,646.4 1360.9,648.4 1361.2,650.4 1361.6,652.4 1362.0,654.4 1362.4,656.4 1362.8,658.4 1363.1,660.4 1363.5,662.4 1363.9,664.5 1364.3,666.5 1364.7,668.6 1365.1,670.6 1365.5,672.7 1365.9,674.8 1366.3,676.8 1366.7,678.9 1367.1,681.0 1367.5,683.1 1367.9,685.2 1368.2,687.2 1368.6,689.1 1369.0,691.1 1369.3,693.1 1369.7,695.1 1370.1,697.1 1370.5,699.1 1370.8,701.1 1371.2,703.1 1371.6,705.2 1371.9,707.2 1372.3,709.2 1372.7,711.3 1373.0,713.3 1373.4,715.4 1373.8,717.4 1374.1,719.5 1374.5,721.6 1374.9,723.6 1375.2,725.7 1375.6,727.8 1376.0,729.9 1376.4,732.0 1376.7,734.1 1377.1,736.2 1377.5,738.2 1377.8,740.2 1378.2,742.2 1378.6,744.2 1378.9,746.2 1379.3,748.2 1379.7,750.2 1380.0,752.2 1380.4,754.2 1380.8,756.2 1381.2,758.2 1381.5,760.3 1381.9,762.3 1382.3,764.3 1382.7,766.4 1383.0,768.4 1383.4,770.5 1383.8,772.6 1384.1,774.6 1384.5,776.7 1384.9,778.8 1385.2,780.9 1385.6,783.0 1385.9,785.1 1386.3,787.2 1386.6,789.3 1387.0,791.4 1387.3,793.6 1387.7,795.7 1388.0,797.8 1388.3,799.8 1388.6,801.8 1389.0,803.8 1389.3,805.8 1389.6,807.8 1389.9,809.8 1390.2,811.8 1390.5,813.8 1390.8,815.8 1391.1,817.8 1391.4,819.9 1391.7,821.9 1392.0,823.9 1392.3,826.0 1392.6,828.0 1393.0,830.1 1393.3,832.2 1393.6,834.2 1393.9,836.3 1394.2,838.4 1394.5,840.5 1394.8,842.5 1395.1,844.6 1395.4,846.7 1395.7,848.8 1396.0,850.9 1396.3,853.1 1396.6,855.2 1396.9,857.3 1397.2,859.4 1397.5,861.6 1397.8,863.7 1398.1,865.9 1398.4,868.0 1398.7,870.2 1398.9,872.2 1399.2,874.1 1399.4,876.1 1399.7,878.1 1400.0,880.1 1400.2,882.1 1400.5,884.2 1400.7,886.2 1401.0,888.2 1401.2,890.2 1401.5,892.3 1401.8,894.3 1402.0,896.3 1402.3,898.4 1402.5,900.4 1402.8,902.5 1403.1,904.5 1403.3,906.6 1403.6,908.7 1403.9,910.7 1404.1,912.8 1404.4,914.9 1404.7,917.0 1405.0,919.1 1405.3,921.2 1405.5,923.3 1405.8,925.4 1406.1,927.5 1406.4,929.6 1406.7,931.8 1407.0,933.9 1407.3,936.0 1407.6,938.2 1407.9,940.3 1408.1,942.4 1408.4,944.6 1408.7,946.8 1409.0,948.9 1409.3,951.1 1409.6,953.3 1409.9,955.4 1410.1,957.4 1410.4,959.4 1410.7,961.4 1410.9,963.4 1411.0,963.6" stroke="#EDB120"/>
<path d="M1222.3,963.6 1222.5,961.5 1222.6,959.5 1222.8,957.4 1222.9,955.4 1223.1,953.4 1223.2,951.3 1223.4,949.3 1223.5,947.3 1223.7,945.3 1223.9,943.2 1224.0,941.0 1224.2,938.8 1224.4,936.7 1224.6,934.5 1224.7,932.4 1224.9,930.2 1225.1,928.1 1225.3,926.0 1225.4,923.9 1225.6,921.8 1225.8,919.7 1225.9,917.7 1226.1,915.6 1226.3,913.5 1226.5,911.5 1226.7,909.4 1226.9,907.4 1227.0,905.4 1227.2,903.4 1227.4,901.4 1227.6,899.4 1227.8,897.2 1228.0,895.0 1228.2,892.9 1228.4,890.8 1228.6,888.6 1228.8,886.5 1229.0,884.4 1229.2,882.3 1229.5,880.2 1229.7,878.1 1229.9,876.1 1230.1,874.0 1230.3,872.0 1230.5,869.9 1230.7,867.9 1230.9,865.9 1231.0,863.9 1231.2,861.9 1231.4,859.7 1231.6,857.6 1231.8,855.4 1232.0,853.3 1232.2,851.2 1232.4,849.1 1232.6,847.0 1232.8,844.9 1232.9,842.9 1233.1,840.8 1233.3,838.8 1233.5,836.7 1233.6,834.7 1233.8,832.7 1233.9,830.7 1234.1,828.6 1234.3,826.4 1234.5,824.3 1234.6,822.2 1234.8,820.1 1235.0,818.0 1235.2,815.9 1235.3,813.9 1235.5,811.8 1235.7,809.8 1235.9,807.8 1236.1,805.8 1236.3,803.8 1236.5,801.6 1236.7,799.5 1236.9,797.4 1237.1,795.3 1237.4,793.2 1237.6,791.2 1237.8,789.1 1238.1,787.1 1238.3,785.1 1238.6,783.1 1238.8,781.1 1239.1,779.1 1239.3,777.0 1239.6,774.9 1239.9,772.8 1240.2,770.7 1240.4,768.7 1240.7,766.6 1241.0,764.6 1241.3,762.6 1241.5,760.6 1241.8,758.5 1242.1,756.4 1242.4,754.4 1242.7,752.3 1243.0,750.3 1243.3,748.2 1243.6,746.2 1243.8,744.2 1244.1,742.3 1244.4,740.2 1244.7,738.1 1245.0,736.1 1245.3,734.0 1245.6,732.0 1245.9,730.0 1246.2,728.1 1246.5,726.0 1246.8,723.9 1247.1,721.9 1247.3,719.9 1247.6,717.9 1247.9,715.9 1248.2,713.8 1248.5,711.7 1248.7,709.7 1249.0,707.7 1249.3,705.7 1249.6,703.6 1249.9,701.6 1250.1,699.5 1250.4,697.5 1250.7,695.5 1251.0,693.5 1251.3,691.4 1251.6,689.4 1251.9,687.4 1252.2,685.4 1252.5,683.4 1252.8,681.3 1253.1,679.3 1253.5,677.4 1253.8,675.3 1254.1,673.3 1254.5,671.3 1254.8,669.3 1255.2,667.2 1255.5,665.2 1255.9,663.3 1256.3,661.2 1256.7,659.3 1257.1,657.3 1257.5,655.3 1257.9,653.3 1258.3,651.3 1258.7,649.3 1259.1,647.3 1259.6,645.3 1260.0,643.4 1260.5,641.4 1260.9,639.4 1261.4,637.4 1261.9,635.4 1262.4,633.4 1262.9,631.4 1263.4,629.4 1263.9,627.5 1264.4,625.5 1265.0,623.6 1265.5,621.6 1266.0,619.7 1266.6,617.7 1267.2,615.7 1267.8,613.8 1268.4,611.9 1269.0,610.0 1269.6,608.1 1270.3,606.2 1270.9,604.3 1271.6,602.4 1272.3,600.5 1273.0,598.6 1273.8,596.7 1274.6,594.9 1275.4,593.0 1276.2,591.2 1277.0,589.3 1277.8,587.5 1278.7,585.7 1279.7,583.9 1280.7,582.2 1281.8,580.5 1282.9,578.8 1284.2,577.3 1285.5,575.8 1287.0,574.4 1288.6,573.2 1290.3,572.1 1292.2,571.3 1294.1,570.8 1297.5,570.7 1299.5,570.9 1301.4,571.3 1303.3,572.1 1305.1,573.1 1306.7,574.2 1308.3,575.5 1309.7,576.9 1311.1,578.3 1312.4,579.9 1313.7,581.4 1314.9,583.0 1316.1,584.7 1317.2,586.3 1318.3,588.0 1319.3,589.8 1320.3,591.5 1321.3,593.3 1322.3,595.1 1323.2,596.9 1324.1,598.7 1325.0,600.5 1325.9,602.3 1326.7,604.1 1327.5,606.0 1328.3,607.8 1329.1,609.7 1329.9,611.5 1330.6,613.4 1331.4,615.3 1332.1,617.2 1332.8,619.1 1333.5,621.0 1334.2,622.9 1334.8,624.8 1335.5,626.7 1336.2,628.7 1336.8,630.6 1337.4,632.5 1338.1,634.4 1338.7,636.3 1339.3,638.3 1339.9,640.2 1340.5,642.1 1341.1,644.1 1341.6,646.0 1342.2,647.9 1342.8,649.9 1343.3,651.8 1343.9,653.8 1344.5,655.7 1345.0,657.7 1345.6,659.6 1346.1,661.6 1346.6,663.5 1347.2,665.5 1347.7,667.5 1348.2,669.4 1348.7,671.4 1349.3,673.4 1349.8,675.3 1350.3,677.3 1350.8,679.2 1351.3,681.2 1351.7,683.2 1352.2,685.1 1352.7,687.1 1353.2,689.1 1353.7,691.1 1354.1,693.0 1354.6,695.0 1355.1,697.0 1355.5,699.0 1356.0,701.0 1356.5,702.9 1356.9,704.9 1357.4,706.9 1357.8,708.9 1358.3,710.9 1358.7,712.9 1359.2,714.9 1359.7,716.9 1360.1,718.9 1360.6,720.8 1361.0,722.8 1361.5,724.8 1361.9,726.8 1362.4,728.8 1362.8,730.8 1363.3,732.8 1363.7,734.7 1364.2,736.7 1364.6,738.7 1365.1,740.7 1365.5,742.7 1366.0,744.7 1366.4,746.6 1366.8,748.6 1367.3,750.6 1367.7,752.6 1368.2,754.6 1368.6,756.6 1369.1,758.6 1369.5,760.6 1369.9,762.6 1370.3,764.5 1370.8,766.5 1371.2,768.5 1371.6,770.5 1372.0,772.5 1372.5,774.6 1372.9,776.5 1373.3,778.5 1373.7,780.5 1374.1,782.5 1374.5,784.5 1374.9,786.5 1375.3,788.5 1375.7,790.5 1376.1,792.5 1376.5,794.6 1376.8,796.5 1377.2,798.5 1377.6,800.5 1378.0,802.5 1378.3,804.5 1378.7,806.5 1379.1,808.5 1379.5,810.5 1379.8,812.5 1380.2,814.6 1380.6,816.6 1380.9,818.6 1381.3,820.6 1381.7,822.6 1382.0,824.6 1382.4,826.6 1382.7,828.6 1383.1,830.6 1383.4,832.6 1383.8,834.7 1384.2,836.7 1384.5,838.7 1384.9,840.8 1385.2,842.8 1385.5,844.8 1385.9,846.7 1386.2,848.7 1386.6,850.7 1386.9,852.8 1387.2,854.8 1387.6,856.8 1387.9,858.8 1388.3,860.9 1388.6,862.9 1388.9,865.0 1389.3,867.0 1389.6,869.1 1389.9,871.1 1390.2,873.1 1390.5,875.1 1390.8,877.1 1391.2,879.1 1391.5,881.1 1391.8,883.1 1392.1,885.1 1392.4,887.2 1392.7,889.2 1393.0,891.2 1393.3,893.3 1393.6,895.4 1393.9,897.4 1394.3,899.5 1394.6,901.5 1394.9,903.5 1395.2,905.5 1395.5,907.5 1395.8,909.5 1396.1,911.5 1396.4,913.5 1396.7,915.5 1397.0,917.5 1397.3,919.6 1397.6,921.6 1397.9,923.7 1398.2,925.7 1398.5,927.8 1398.8,929.9 1399.2,931.9 1399.5,934.0 1399.8,936.0 1400.1,938.0 1400.4,940.0 1400.7,942.0 1401.0,944.0 1401.3,946.0 1401.6,948.0 1401.8,950.0 1402.1,952.1 1402.4,954.1 1402.7,956.1 1403.0,958.2 1403.3,960.2 1403.6,962.3 1403.8,963.7" stroke="#77AC30"/>
</g>
<rect x="177" y="208" width="809.3" height="182" fill="#fff" stroke="#262626" stroke-width="3.2"/>
<path d="M182,232.20H238.75" stroke="#A2142F" stroke-width="12.5"/>
<text x="243.5" y="245.60" class="lg">FCC-hh (50TeV, 500mA)</text>
<path d="M182,276.87H238.75" stroke="#0072BD" stroke-width="12.5"/>
<text x="243.5" y="290.35" class="lg">ALBA (3GeV, 250mA)</text>
<path d="M182,321.54H238.75" stroke="#EDB120" stroke-width="12.5"/>
<text x="243.5" y="335.10" class="lg">ALBA (3GeV, 250mA) + 1mm Al + 3mm Kodial</text>
<path d="M182,366.21H238.75" stroke="#77AC30" stroke-width="12.5"/>
<text x="243.5" y="379.85" class="lg">ALBA (3GeV, 250mA)<tspan letter-spacing="-0.54"> + 35mm Cu</tspan></text>
<text x="142.5" y="986.5" class="tk" text-anchor="middle">10<tspan class="sp" dy="-20">1</tspan></text>
<text x="427.2" y="986.5" class="tk" text-anchor="middle">10<tspan class="sp" dy="-20">2</tspan></text>
<text x="711.9" y="986.5" class="tk" text-anchor="middle">10<tspan class="sp" dy="-20">3</tspan></text>
<text x="996.6" y="986.5" class="tk" text-anchor="middle">10<tspan class="sp" dy="-20">4</tspan></text>
<text x="1281.3" y="986.5" class="tk" text-anchor="middle">10<tspan class="sp" dy="-20">5</tspan></text>
<text x="1566.0" y="986.5" class="tk" text-anchor="middle">10<tspan class="sp" dy="-20">6</tspan></text>
<text x="130.0" y="945.3" class="tk" text-anchor="end">10<tspan class="sp" dy="-20">0</tspan></text>
<text x="130.0" y="616.6" class="tk" text-anchor="end">10<tspan class="sp" dy="-20">5</tspan></text>
<text x="130.0" y="289.3" class="tk" text-anchor="end">10<tspan class="sp" dy="-20">10</tspan></text>
<text x="854.2" y="1041.3" class="al" text-anchor="middle">Photon Energy [eV]</text>
<text transform="translate(35.8,463.9) rotate(-90)" class="al" text-anchor="middle">Flux [photons/s /0.1&amp;BW]</text>
</svg>
</body></html>
